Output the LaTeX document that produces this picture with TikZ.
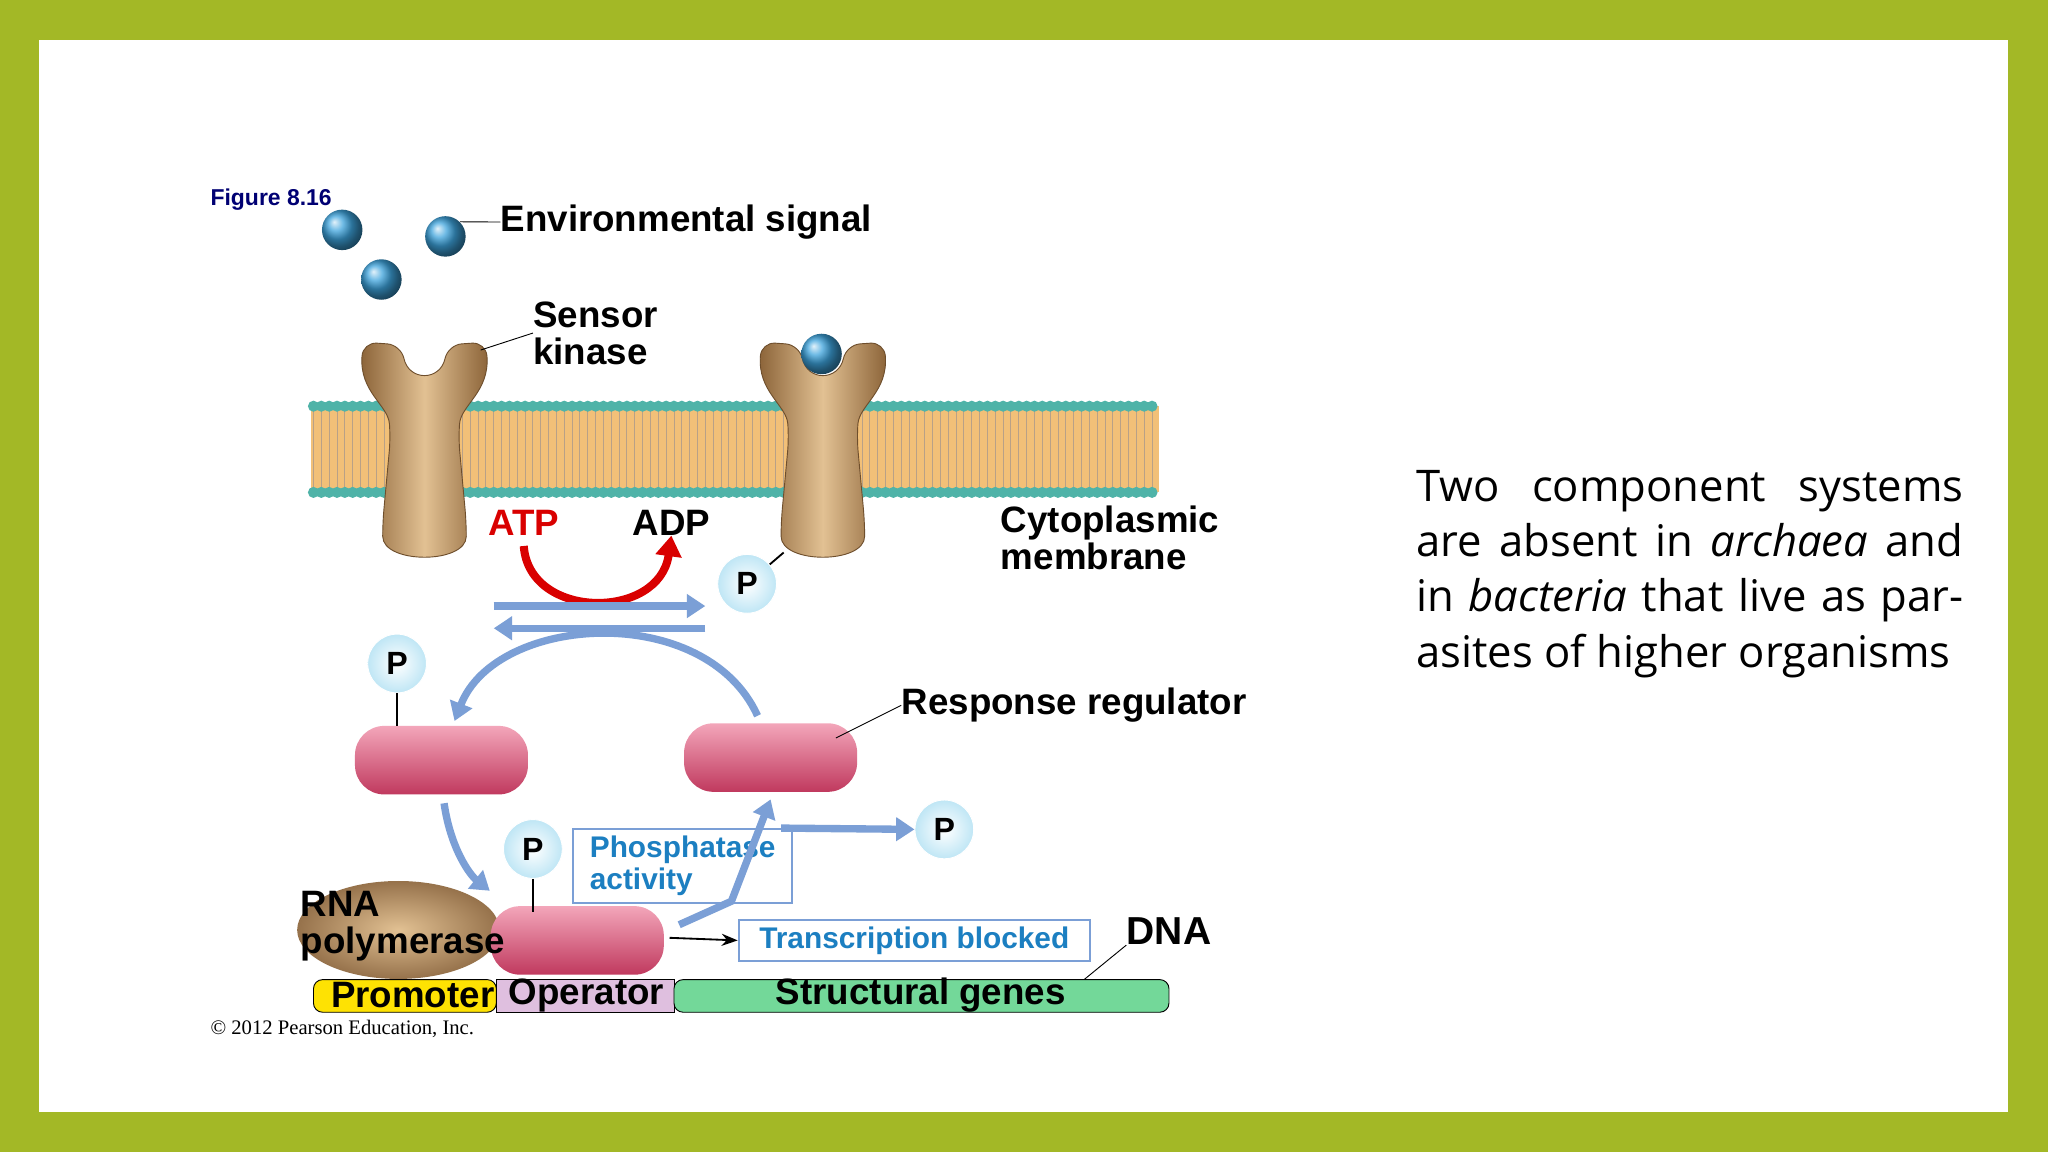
\documentclass[tikz,border=0pt]{standalone}
\usepackage{fontspec}
\setmainfont{Liberation Sans}
\newfontfamily\bodyfont{Open Sans}
\newfontfamily\serifcr{Liberation Serif}
\usetikzlibrary{positioning,arrows.meta,calc,shapes.geometric}
\definecolor{frame}{HTML}{A3B826}
\definecolor{kdark}{HTML}{8A6237}
\definecolor{klight}{HTML}{E2C193}
\definecolor{rdark}{HTML}{C0395E}
\definecolor{rlight}{HTML}{F3A6BA}
\definecolor{pblue}{HTML}{BFE6F5}
\definecolor{ablue}{HTML}{7B9FD6}
\definecolor{tblue}{HTML}{1C7FC1}
\definecolor{ball}{HTML}{3DA3DC}
\definecolor{head}{HTML}{4FB3A8}
\definecolor{tail}{HTML}{F2C078}
\tikzset{
  lbl/.style={font=\bfseries\fontsize{16}{16}\selectfont, inner sep=0pt},
  pcirc/.style={circle, draw=white, shade, inner color=white, outer color=pblue,
    minimum size=0.9cm, inner sep=0pt, font=\bfseries\fontsize{14}{14}\selectfont},
  regul/.style={rounded corners=0.45cm, top color=rlight, bottom color=rdark,
    minimum width=2.65cm, minimum height=1.05cm},
  sig/.style={circle, ball color=ball, minimum size=0.62cm, inner sep=0pt},
  bluebox/.style={draw=ablue, thick, fill=white, text=tblue, align=left,
    font=\bfseries\fontsize{13}{14}\selectfont, inner sep=3pt},
  flow/.style={ablue, line width=3.2pt, -{Triangle[length=8pt,width=10pt]}},
}
\newcommand{\kinase}[1]{%
  \draw[kdark!80!black, left color=kdark, right color=kdark, middle color=klight, rounded corners=6pt]
    (#1-47,262) .. controls (#1-50,300) and (#1-28,310) .. (#1-26,335)
    -- (#1-32,400) .. controls (#1-32,432) and (#1+32,432) .. (#1+32,400)
    -- (#1+26,335) .. controls (#1+28,310) and (#1+50,300) .. (#1+47,262)
    -- (#1+18,264) .. controls (#1+12,292) and (#1-12,292) .. (#1-18,264) -- cycle;}
\begin{document}
\begin{tikzpicture}[x=0.02cm,y=-0.02cm]
\fill[frame] (0,0) rectangle (1568,882);
\fill[white] (30,31) rectangle (1537,851);
\node[anchor=west, text=blue!45!black, font=\bfseries\fontsize{10}{10}\selectfont] (fig) at (155,153) {Figure 8.16};
% signal
\node[sig] (s1) at (262,176) {};
\node[sig] (s2) at (341,181) {};
\node[sig] (s3) at (292,214) {};
\node[lbl, anchor=west] (env) at (383,170) {Environmental signal};
\draw (s2.north east) -- (env.west);
% membrane
\fill[tail] (238,311) rectangle (887,377);
\foreach \x in {240,246,...,886} {\draw[kdark!60, line width=0.4pt] (\x,314) -- (\x,374);
  \fill[head] (\x,311) circle (0.085cm); \fill[head] (\x,377) circle (0.085cm);}
\kinase{325}
\kinase{630}
\node[sig] (s4) at (629,271) {};
\node[lbl, anchor=west, align=left] (sk) at (408,255) {Sensor\\kinase};
\draw (368,268) -- (sk.west);
\node[lbl, anchor=west, align=left] (cm) at (766,412) {Cytoplasmic\\membrane};
% ATP / ADP
\node[lbl, text=red!85!black] (atp) at (401,400) {ATP};
\node[lbl] (adp) at (514,400) {ADP};
\draw[red!85!black, line width=3.5pt, -{Triangle[length=9pt,width=11pt]}]
  (atp.south) ++(0,8) .. controls (405,475) and (505,475) .. (adp.south);
\node[pcirc] (p1) at (572,447) {P};
\draw[thick] (p1) -- (600,423);
\draw[flow] (378,464) -- (540,464);
\draw[flow] (540,481) -- (378,481);
\draw[flow] (580,548) .. controls (540,460) and (380,470) .. (348,552);
% regulators
\node[regul] (r1) at (338,582) {};
\node[regul] (r2) at (590,580) {};
\node[pcirc] (p2) at (304,508) {P};
\draw[thick] (p2) -- (304,556);
\node[lbl, anchor=west] (rr) at (690,540) {Response regulator};
\draw (640,565) -- (rr.west);
\draw[flow] (340,615) .. controls (345,650) and (360,670) .. (375,682);
% RNA polymerase
\node[ellipse, shade, inner color=klight, outer color=kdark!90, minimum width=3.1cm, minimum height=1.5cm] (rnap) at (305,712) {};
\node[regul] (r3) at (442,720) {};
\node[lbl, anchor=west, align=left] (rnat) at (230,709) {RNA\\polymerase};
\node[pcirc] (p3) at (408,650) {P};
\draw[thick] (p3) -- (408,698);
% phosphatase
\node[bluebox, anchor=north west, minimum width=3.36cm, minimum height=1.12cm] (pa) at (438,634) {Phosphatase\\activity};
\draw[flow] (520,708) -- (560,690) -- (590,612);
\node[pcirc] (p4) at (723,635) {P};
\draw[flow] (598,634) -- (p4.west);
\node[bluebox, minimum width=5.38cm] (tb) at (700,720) {Transcription blocked};
\draw[thick, -{Stealth[length=7pt]}] (r3.east) ++(4,-2) -- (tb.west);
% DNA
\draw[fill=yellow!85!orange, rounded corners=4pt] (240,750) rectangle (380,775);
\draw[fill=violet!25] (380,750) rectangle (516,775);
\draw[fill=green!45!teal!55, rounded corners=4pt] (516,750) rectangle (895,775);
\node[lbl] (prom) at (316,762) {Promoter};
\node[lbl] (oper) at (449,762) {Operator};
\node[lbl] (sg) at (705,762) {Structural genes};
\node[lbl, font=\bfseries\fontsize{17}{17}\selectfont] (dna) at (895,713) {DNA};
\draw (830,750) -- (dna.south west);
\node[anchor=west, font=\serifcr\fontsize{9}{9}\selectfont] (copy) at (155,788) {\textcopyright{} 2012 Pearson Education, Inc.};
% side text
\node[anchor=north west, text width=8.38cm, inner sep=0pt, align=justify,
  font=\bodyfont\fontsize{19}{24}\selectfont] (txt) at (1084,360)
  {\hyphenpenalty=10000\exhyphenpenalty=10000 Two component systems are absent in \textit{archaea} and in \textit{bacteria} that live as parasites of higher organisms};
\end{tikzpicture}
\end{document}
